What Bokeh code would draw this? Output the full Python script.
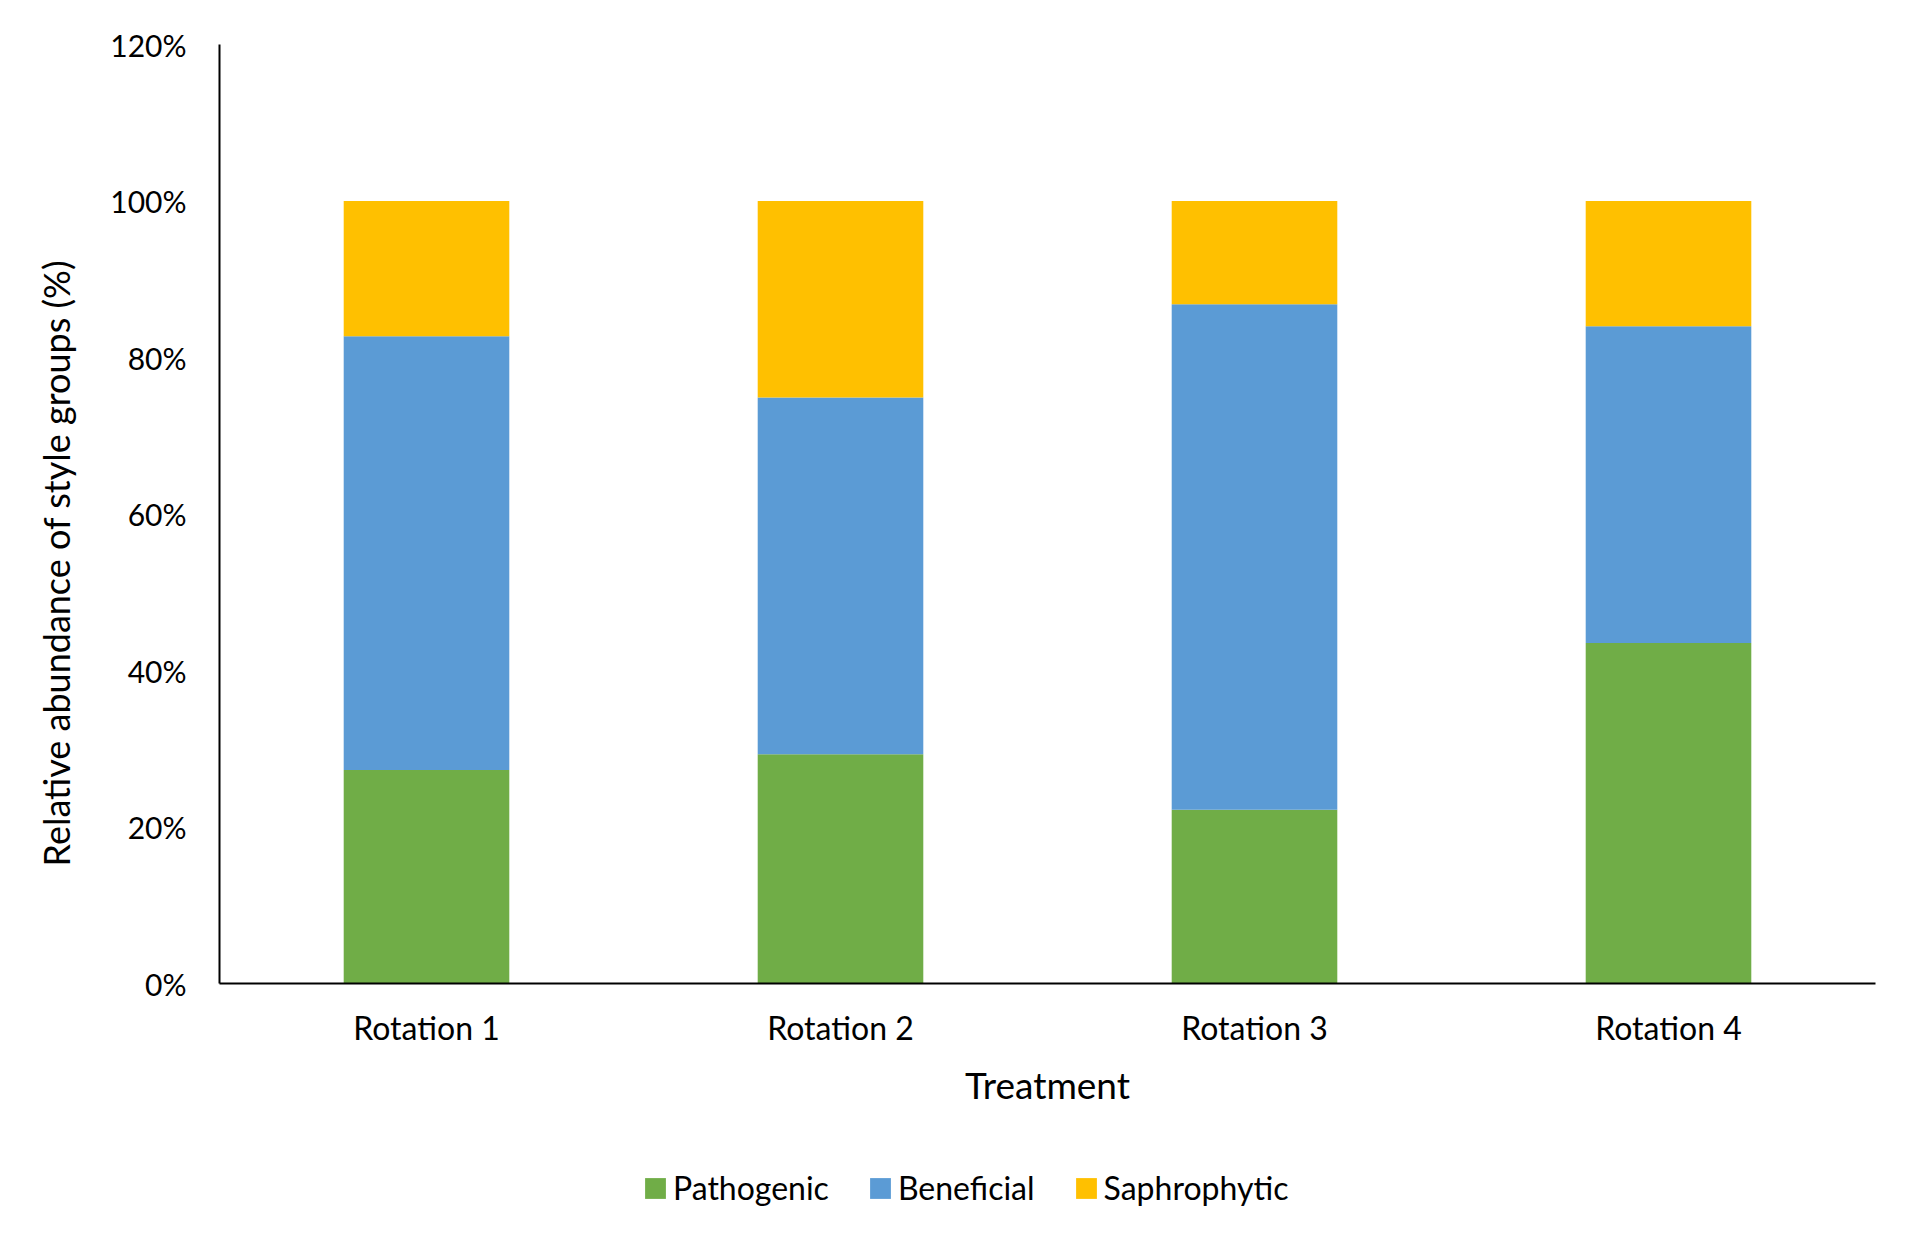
from bokeh.plotting import figure
from bokeh.layouts import column
from bokeh.models import (ColumnDataSource, FactorRange, Range1d, Legend, LegendItem,
                          NumeralTickFormatter, FixedTicker, Title)
from bokeh.embed import file_html
from bokeh.resources import INLINE

treatments = ["Rotation 1", "Rotation 2", "Rotation 3", "Rotation 4"]
groups = ["Pathogenic", "Beneficial", "Saphrophytic"]
pathogenic = [0.273, 0.293, 0.222, 0.435]
beneficial = [0.554, 0.456, 0.646, 0.405]
saphrophytic = [0.173, 0.251, 0.132, 0.160]
y_ticks = [0, 0.2, 0.4, 0.6, 0.8, 1.0, 1.2]
colors = ["#70AD47", "#5B9BD5", "#FFC000"]

FONT = "Lato"

src = ColumnDataSource(dict(treatment=treatments, Pathogenic=pathogenic,
                            Beneficial=beneficial, Saphrophytic=saphrophytic))

p = figure(x_range=FactorRange(*treatments, range_padding=0), y_range=Range1d(0, 1.2),
           width=1920, height=1130, output_backend="svg", toolbar_location=None,
           min_border_left=219, min_border_right=45, min_border_top=44, min_border_bottom=147,
           background_fill_color="white", border_fill_color="white")
p.outline_line_color = None
p.xgrid.visible = False
p.ygrid.visible = False

rs = p.vbar_stack(groups, x="treatment", width=0.4, color=colors, source=src, line_width=0)

# y axis
ya = p.yaxis[0]
ya.ticker = FixedTicker(ticks=y_ticks)
ya.formatter = NumeralTickFormatter(format="0%")
ya.major_tick_line_color = None
ya.minor_tick_line_color = None
ya.major_tick_out = 0
ya.major_label_standoff = 33
ya.axis_line_width = 2
ya.axis_line_color = "black"
ya.major_label_text_font = FONT
ya.major_label_text_font_size = "30px"
ya.major_label_text_color = "black"

ytitle = Title(text="Relative abundance of style groups (%)", align="left", offset=117,
               text_font=FONT, text_font_size="36px", text_font_style="normal",
               text_color="black", standoff=60)
p.add_layout(ytitle, "left")

# x axis
xa = p.xaxis[0]
xa.major_tick_line_color = None
xa.minor_tick_line_color = None
xa.major_tick_out = 0
xa.major_label_standoff = 24
xa.axis_line_width = 2
xa.axis_line_color = "black"
xa.major_label_text_font = FONT
xa.major_label_text_font_size = "32px"
xa.major_label_text_color = "black"
xa.axis_label = "Treatment"
xa.axis_label_text_font = FONT
xa.axis_label_text_font_size = "37px"
xa.axis_label_text_font_style = "normal"
xa.axis_label_text_color = "black"
xa.axis_label_standoff = 12

# legend in a strip below the chart (its stacked bars lie outside the visible range)
p2 = figure(x_range=FactorRange(*treatments), y_range=Range1d(5, 6),
            width=1920, height=115, output_backend="svg", toolbar_location=None,
            x_axis_location=None, y_axis_location=None, min_border=0,
            background_fill_color="white", border_fill_color="white")
p2.outline_line_color = None
p2.grid.visible = False
lr = p2.vbar_stack(groups, x="treatment", width=0.4, color=colors, source=src, line_width=0)

legend = Legend(items=[LegendItem(label=g, renderers=[r]) for g, r in zip(groups, lr)],
                orientation="horizontal", location=(423, 38))
legend.label_text_font = FONT
legend.label_text_font_size = "32px"
legend.label_text_color = "black"
legend.glyph_width = 26
legend.glyph_height = 26
legend.label_standoff = 5
legend.spacing = 38
legend.border_line_color = None
legend.padding = 0
legend.margin = 0
legend.background_fill_alpha = 0
p2.add_layout(legend, "center")

layout = column(p, p2, spacing=0)
open("out.html", "w").write(file_html(layout, INLINE))
